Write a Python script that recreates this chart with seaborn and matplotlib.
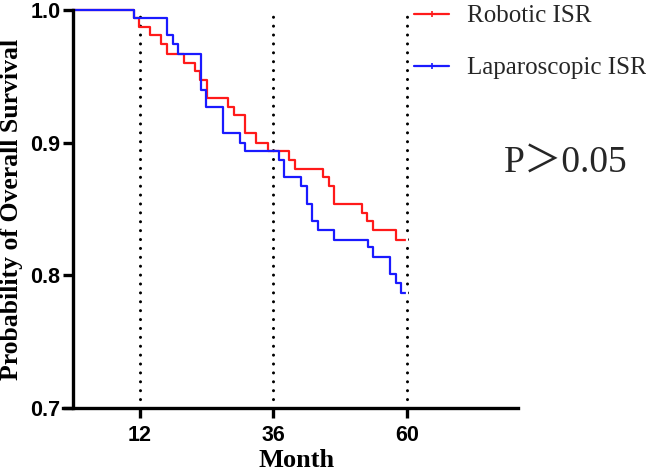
import seaborn as sns
import matplotlib.pyplot as plt
import pandas as pd
from matplotlib.lines import Line2D

# Kaplan-Meier steps (month, survival probability)
robotic_month = [0, 10.9, 11.9, 13.9, 15.9, 16.9, 19.9, 21.9, 22.9, 24.0, 27.9, 28.9,
                 30.9, 32.9, 35.0, 38.9, 39.9, 45.0, 46.0, 46.9, 51.9, 52.9, 54.0, 58.0, 60]
robotic_surv = [1.0, 0.994, 0.987, 0.981, 0.974, 0.967, 0.960, 0.954, 0.947, 0.934, 0.927, 0.921,
                0.907, 0.900, 0.894, 0.887, 0.880, 0.874, 0.867, 0.854, 0.847, 0.841, 0.834, 0.827, 0.827]

lap_month = [0, 10.9, 16.9, 17.9, 18.9, 23.0, 23.9, 26.9, 30.0, 31.0, 37.0, 37.9,
             40.9, 42.0, 43.0, 44.0, 47.0, 53.0, 54.0, 57.0, 58.0, 59.0, 60]
lap_surv = [1.0, 0.994, 0.981, 0.974, 0.967, 0.940, 0.927, 0.907, 0.900, 0.894, 0.887, 0.874,
            0.867, 0.854, 0.841, 0.834, 0.827, 0.821, 0.814, 0.801, 0.794, 0.787, 0.787]

groups = ['Robotic ISR', 'Laparoscopic ISR']
colors = ['#ff1a1a', '#1a1aff']
x_ticks = [12, 36, 60]
y_ticks = [0.7, 0.8, 0.9, 1.0]

df = pd.concat([
    pd.DataFrame({'Month': robotic_month, 'Survival': robotic_surv, 'Group': groups[0]}),
    pd.DataFrame({'Month': lap_month, 'Survival': lap_surv, 'Group': groups[1]}),
])

sns.set_style('ticks')
fig = plt.figure(figsize=(6.46, 4.72), dpi=100)
ax = fig.add_axes([63 / 646, 1 - 408 / 472, 455 / 646, 398 / 472])

sns.lineplot(data=df, x='Month', y='Survival', hue='Group', hue_order=groups,
             palette=colors, estimator=None, sort=False, drawstyle='steps-post',
             linewidth=1.6, marker='|', markersize=7, markeredgewidth=1.6,
             markevery=[-1], clip_on=False, legend=False, ax=ax)

# dotted reference lines at the landmark months
for m in x_ticks:
    ax.axvline(m, color='black', lw=2.2, linestyle=(0, (0.01, 2.9)),
               dash_capstyle='round', zorder=1)

ax.set_xlim(-1.8, 80)
ax.set_ylim(0.7, 1.0)
ax.set_xticks(x_ticks)
ax.set_yticks(y_ticks)
ax.set_yticklabels(['0.7', '0.8', '0.9', '1.0'])

ax.spines['left'].set_position(('data', 0))
ax.spines['top'].set_visible(False)
ax.spines['right'].set_visible(False)
for s in ['left', 'bottom']:
    ax.spines[s].set_linewidth(2.4)
    ax.spines[s].set_color('black')
ax.tick_params(width=2.4, length=7, labelsize=15.5, color='black', labelcolor='black')
ax.tick_params(axis='x', pad=5)
ax.tick_params(axis='y', pad=2)
for lab in ax.get_xticklabels() + ax.get_yticklabels():
    lab.set_fontfamily('Liberation Sans')
    lab.set_fontweight('bold')

ax.set_xlabel('Month', fontsize=19, fontweight='bold', fontfamily='Liberation Serif',
              color='black')
ax.xaxis.set_label_coords(0.514, -0.102)
ax.set_ylabel('Probability of Overall Survival', fontsize=18.5, fontweight='bold',
              fontfamily='Liberation Serif', color='black')
ax.yaxis.set_label_coords(-0.088, 0.50)

handles = [Line2D([], [], color=c, lw=1.6, marker='|', markersize=5, markeredgewidth=1.2)
           for c in colors]
ax.legend(handles, groups, loc='upper left', bbox_to_anchor=(414 / 646, 1 - 5 / 472),
          bbox_transform=fig.transFigure, frameon=False, borderpad=0, borderaxespad=0,
          numpoints=1, handlelength=1.4, handletextpad=0.72, labelspacing=1.17,
          prop={'family': 'Liberation Serif', 'size': 18})

fig.text(566 / 646, 1 - 163 / 472, 'P\uff1e0.05', fontsize=27, ha='center', va='center',
         family=['Liberation Serif', 'Noto Sans CJK SC'])

plt.savefig('out.png', dpi=100)
